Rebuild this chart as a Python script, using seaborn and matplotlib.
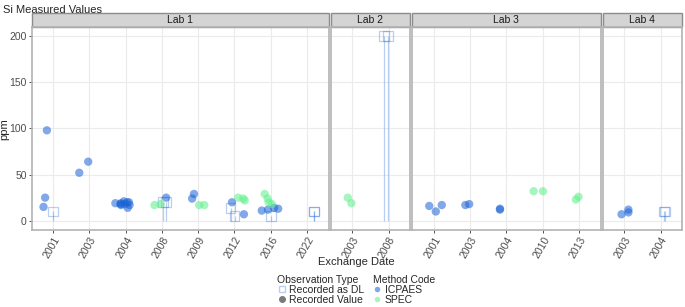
import numpy as np
import pandas as pd
import seaborn as sns
import matplotlib.pyplot as plt
from matplotlib.lines import Line2D
from matplotlib.patches import Rectangle

# Data ------------------------------------------------------------------------
LABS = ['Lab 1', 'Lab 2', 'Lab 3', 'Lab 4']
YEARS = {
    'Lab 1': ['2001', '2003', '2004', '2008', '2009', '2012', '2016', '2022'],
    'Lab 2': ['2003', '2008'],
    'Lab 3': ['2001', '2003', '2004', '2010', '2013'],
    'Lab 4': ['2003', '2004'],
}
lab = (
    ['Lab 1'] * 4 + ['Lab 1'] * 2 + ['Lab 1'] * 10 + ['Lab 1'] * 5
    + ['Lab 1'] * 4 + ['Lab 1'] * 7 + ['Lab 1'] * 9 + ['Lab 1'] * 2
    + ['Lab 2'] * 4
    + ['Lab 3'] * 3 + ['Lab 3'] * 2 + ['Lab 3'] * 2 + ['Lab 3'] * 2 + ['Lab 3'] * 2
    + ['Lab 4'] * 3 + ['Lab 4'] * 2
)
year = (
    ['2001'] * 4 + ['2003'] * 2 + ['2004'] * 10 + ['2008'] * 5
    + ['2009'] * 4 + ['2012'] * 7 + ['2016'] * 9 + ['2022'] * 2
    + ['2003', '2003', '2008', '2008']
    + ['2001'] * 3 + ['2003'] * 2 + ['2004'] * 2 + ['2010'] * 2 + ['2013'] * 2
    + ['2003'] * 3 + ['2004'] * 2
)
method = (
    ['ICPAES'] * 4 + ['ICPAES'] * 2 + ['ICPAES'] * 10
    + ['ICPAES', 'ICPAES', 'ICPAES', 'SPEC', 'SPEC']
    + ['SPEC', 'SPEC', 'ICPAES', 'ICPAES']
    + ['ICPAES', 'ICPAES', 'SPEC', 'SPEC', 'SPEC', 'ICPAES', 'ICPAES']
    + ['ICPAES'] * 4 + ['SPEC'] * 4 + ['ICPAES']
    + ['ICPAES'] * 2
    + ['SPEC', 'SPEC', 'ICPAES', 'ICPAES']
    + ['ICPAES'] * 7 + ['SPEC'] * 4
    + ['ICPAES'] * 3 + ['ICPAES'] * 2
)
obs = (
    ['Recorded Value'] * 3 + ['Recorded as DL'] + ['Recorded Value'] * 2
    + ['Recorded Value'] * 10
    + ['Recorded Value', 'Recorded as DL', 'Recorded as DL', 'Recorded Value', 'Recorded Value']
    + ['Recorded Value'] * 4
    + ['Recorded Value'] * 5 + ['Recorded as DL'] * 2
    + ['Recorded Value'] * 8 + ['Recorded as DL']
    + ['Recorded as DL'] * 2
    + ['Recorded Value'] * 2 + ['Recorded as DL'] * 2
    + ['Recorded Value'] * 11
    + ['Recorded Value'] * 3 + ['Recorded as DL'] * 2
)
ppm = (
    [25, 98, 15, 10] + [64, 52]
    + [18, 20, 19, 17, 14, 19, 20, 18, 21, 17]
    + [25, 20, 20, 18, 17]
    + [17, 17, 29, 24]
    + [20, 7, 22, 25, 24, 14, 5]
    + [13, 12, 11, 14, 18, 24, 29, 20, 5]
    + [10, 10]
    + [25, 19, 200, 200]
    + [17, 10, 16] + [17, 18] + [13, 12] + [32, 32] + [26, 23]
    + [9, 12, 7] + [10, 10]
)
df = pd.DataFrame({'lab': lab, 'year': year, 'method': method, 'obs': obs, 'ppm': ppm})

PAL = {'ICPAES': '#1a62d6', 'SPEC': '#5cf08a'}
DL_COL = '#1a62d6'
DL_EDGE = (0.1, 0.38, 0.84, 0.3)
GRID = '#ebebeb'
TXT = '#4d4d4d'

###############################################################################
# Plot
###############################################################################
np.random.seed(3)
sns.set_theme(style='whitegrid')
plt.rcParams['font.family'] = ['Liberation Sans', 'DejaVu Sans']
fig = plt.figure(figsize=(6.85, 3.07), dpi=100)
wr = [len(YEARS[l]) + 0.2 for l in LABS]
gs = fig.add_gridspec(1, 4, width_ratios=wr, left=0.046, right=0.996,
                      top=0.912, bottom=0.251, wspace=0.012)
for i, l in enumerate(LABS):
    ax = fig.add_subplot(gs[0, i])
    sub = df[df['lab'] == l]
    vals = sub[sub['obs'] == 'Recorded Value']
    dls = sub[sub['obs'] == 'Recorded as DL']
    if len(dls):
        n0 = len(ax.collections)
        sns.stripplot(data=dls, x='year', y='ppm', order=YEARS[l], ax=ax,
                      color=DL_COL, marker='s', size=7, jitter=0.25, legend=False)
        for coll in ax.collections[n0:]:
            off = np.asarray(coll.get_offsets())
            coll.set_facecolor('none')
            coll.set_edgecolor(DL_EDGE)
            coll.set_linewidth(0.9)
            if len(off):
                ax.vlines(off[:, 0], 0, off[:, 1], color=DL_COL, alpha=0.3,
                          lw=0.9, zorder=2)
    if len(vals):
        sns.stripplot(data=vals, x='year', y='ppm', order=YEARS[l], ax=ax,
                      hue='method', hue_order=['ICPAES', 'SPEC'], palette=PAL,
                      size=6, jitter=0.3, alpha=0.55, linewidth=0, legend=False)
    n = len(YEARS[l])
    ax.set_xlim(-0.6, n - 0.4)
    ax.set_ylim(-10, 210)
    ax.set_yticks([0, 50, 100, 150, 200])
    ax.grid(True, color=GRID, lw=0.8)
    ax.set_axisbelow(True)
    ax.set_xlabel('')
    ax.set_ylabel('')
    ax.tick_params(axis='x', labelrotation=60, labelsize=7.5, colors='#333333',
                   length=2.5, width=0.6, pad=1, labelcolor=TXT, bottom=True)
    ax.tick_params(axis='y', labelsize=7.5, colors='#333333', length=2.5,
                   width=0.6, pad=1, labelcolor=TXT, left=True)
    for t in ax.get_xticklabels():
        t.set_ha('right')
        t.set_rotation_mode('anchor')
    if i > 0:
        ax.tick_params(axis='y', labelleft=False, left=False)
    for s in ax.spines.values():
        s.set_color('#b3b3b3')
        s.set_linewidth(1.2)
    ax.add_patch(Rectangle((0, 1.0), 1, 0.069, transform=ax.transAxes,
                           facecolor='#d4d4d4', edgecolor='#8c8c8c', lw=1.0,
                           clip_on=False))
    ax.text(0.5, 1.034, l, transform=ax.transAxes, ha='center', va='center',
            fontsize=7.5, color='#1a1a1a')

fig.text(0.004, 0.985, 'Si Measured Values', ha='left', va='top', fontsize=8)
fig.text(0.006, 0.58, 'ppm', rotation=90, ha='center', va='center', fontsize=8)
fig.text(0.52, 0.145, 'Exchange Date', ha='center', va='center', fontsize=8)

h_obs = [
    Line2D([], [], marker='s', ls='', markerfacecolor='none', markersize=4,
           markeredgecolor=DL_EDGE, label='Recorded as DL'),
    Line2D([], [], marker='o', ls='', color='#7a7a7a', markersize=4,
           label='Recorded Value'),
]
h_met = [
    Line2D([], [], marker='o', ls='', color=PAL[k], alpha=0.55, markersize=4,
           markeredgewidth=0, label=k) for k in ['ICPAES', 'SPEC']
]
kw = dict(frameon=False, fontsize=7.5, title_fontsize=7.5, handletextpad=0.3,
          labelspacing=0.0, borderpad=0, handlelength=0.8, alignment='left',
          borderaxespad=0)
fig.legend(handles=h_obs, title='Observation Type', loc='upper left',
           bbox_to_anchor=(0.405, 0.105), **kw)
fig.legend(handles=h_met, title='Method Code', loc='upper left',
           bbox_to_anchor=(0.545, 0.105), **kw)
fig.savefig('out.png', dpi=100)
